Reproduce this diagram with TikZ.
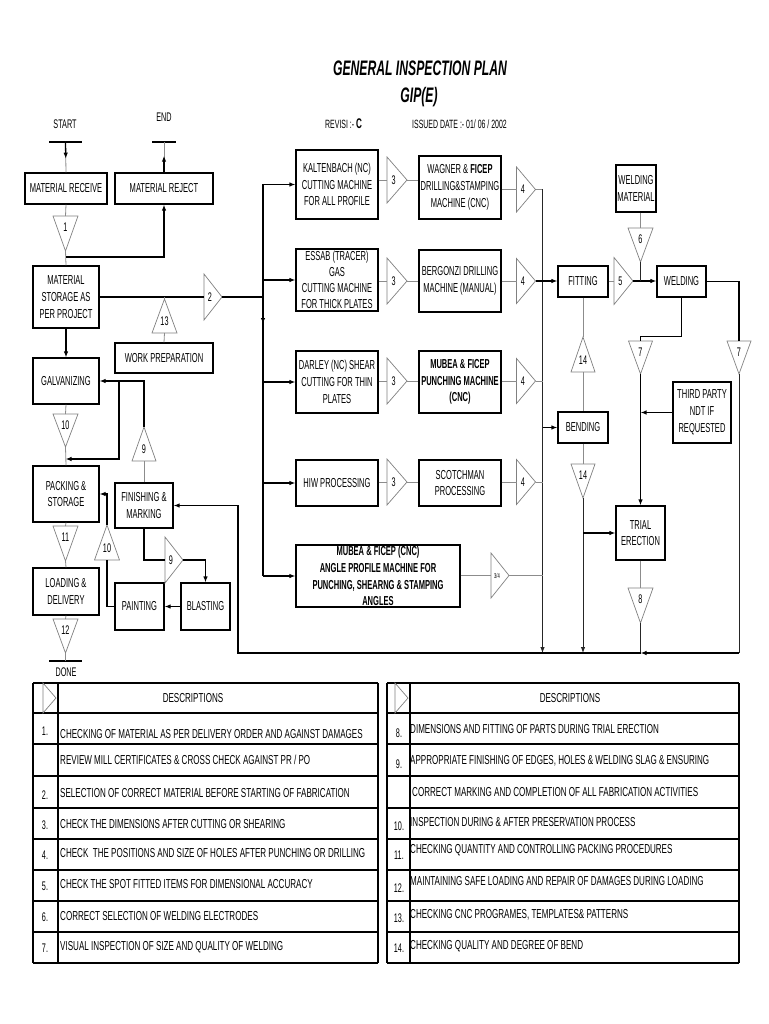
\documentclass[tikz,border=0pt]{standalone}
\usepackage{fontspec}
\setmainfont{Liberation Sans}[FakeStretch=0.58]
\newfontfamily\tabfont{Liberation Sans}[FakeStretch=0.62]
\usetikzlibrary{arrows.meta, calc, positioning}
\tikzset{>={Latex[length=6pt,width=4.5pt]}}
\colorlet{linkgray}{black!45}
\colorlet{trigray}{black!50}
\tikzstyle{box}=[draw, line width=1.2pt, inner sep=1pt, align=center, font=\fontsize{13}{16.8}\selectfont]
\tikzstyle{flow}=[line width=1.3pt]
\tikzstyle{bus}=[line width=0.9pt, black!85]
\tikzstyle{link}=[line width=0.8pt, linkgray]
\tikzstyle{tri}=[line width=0.7pt, trigray, fill=white]
\tikzstyle{trilabel}=[inner sep=0, font=\fontsize{12.5}{12.5}\selectfont]
\tikzstyle{lbl}=[inner sep=0, font=\fontsize{12.5}{14}\selectfont]
\tikzstyle{row}=[anchor=west, inner sep=0, font=\tabfont\fontsize{13}{14}\selectfont]
\tikzstyle{tabline}=[line width=1.1pt]

% inspection marker: name, rotation, x, y, half length, half width, number
\newcommand{\marker}[7]{%
  \begin{scope}[shift={(#3,#4)}, rotate=#2]
    \draw[tri] (-#5,-#6) -- (#5,0) -- (-#5,#6) -- cycle;
    \coordinate (#1-in) at (-#5,0);
    \coordinate (#1-out) at (#5,0);
    \node[trilabel] (#1) at (-#5/3,0) {#7};
  \end{scope}}

\begin{document}
\begin{tikzpicture}[x=1pt,y=-1pt]
\useasboundingbox (0,0) rectangle (768,1024);

% title
\node[inner sep=0, font=\fontsize{21}{24}\selectfont\bfseries\itshape] (title) at (420,68) {GENERAL INSPECTION PLAN};
\node[inner sep=0, font=\fontsize{21}{24}\selectfont\bfseries\itshape] (gip) at (419,97) {GIP(E)};
\node[lbl, anchor=west, font=\fontsize{12}{13}\selectfont] (rev) at (325,124) {REVISI :- {\fontsize{14}{14}\selectfont\bfseries C}};
\node[lbl, anchor=west, font=\fontsize{12}{13}\selectfont] (date) at (412,124) {ISSUED DATE :- 01/ 06 / 2002};

% left column
\node[lbl] (start) at (65,124) {START};
\node[lbl] (end) at (164,117) {END};
\node[lbl] (done) at (66,672) {DONE};
\node[box, minimum width=82, minimum height=31] (recv) at (66,188.5) {MATERIAL RECEIVE};
\node[box, minimum width=98, minimum height=31] (rej) at (164,188.5) {MATERIAL REJECT};
\node[box, minimum width=66, minimum height=62] (stor) at (66,297) {MATERIAL\\STORAGE AS\\PER PROJECT};
\node[box, minimum width=66, minimum height=46] (galv) at (66,381) {GALVANIZING};
\node[box, minimum width=66, minimum height=56] (pack) at (66,494) {PACKING \&\\STORAGE};
\node[box, minimum width=66, minimum height=47] (load) at (66,591.5) {LOADING \&\\DELIVERY};
\node[box, minimum width=98, minimum height=30] (prep) at (164,358) {WORK PREPARATION};
\node[box, minimum width=58, minimum height=45] (fin) at (144,505.5) {FINISHING \&\\MARKING};
\node[box, minimum width=49, minimum height=47] (paint) at (139.5,606.5) {PAINTING};
\node[box, minimum width=49, minimum height=47] (blast) at (205.5,606.5) {BLASTING};

% machines
\node[box, minimum width=82, minimum height=69] (kalt) at (337,184.5) {KALTENBACH (NC)\\CUTTING MACHINE\\FOR ALL PROFILE};
\node[box, minimum width=82, minimum height=63] (wag) at (460,187.5) {WAGNER \& \textbf{FICEP}\\DRILLING\&STAMPING\\MACHINE (CNC)};
\node[box, minimum width=82, minimum height=62, font=\fontsize{13}{16}\selectfont] (essab) at (337,280) {ESSAB (TRACER)\\GAS\\CUTTING MACHINE\\FOR THICK PLATES};
\node[box, minimum width=82, minimum height=62] (berg) at (460,281) {BERGONZI DRILLING\\MACHINE (MANUAL)};
\node[box, minimum width=82, minimum height=62] (darl) at (337,382) {DARLEY (NC) SHEAR\\CUTTING FOR THIN\\PLATES};
\node[box, minimum width=82, minimum height=62, font=\fontsize{13}{16.8}\selectfont\bfseries] (mub) at (460,382) {MUBEA \& FICEP\\PUNCHING MACHINE\\(CNC)};
\node[box, minimum width=82, minimum height=46] (hiw) at (337,483) {HIW PROCESSING};
\node[box, minimum width=82, minimum height=46] (scot) at (460,483) {SCOTCHMAN\\PROCESSING};
\node[box, minimum width=164, minimum height=62, font=\fontsize{13}{16.8}\selectfont\bfseries] (angl) at (378,576) {MUBEA \& FICEP (CNC)\\ANGLE PROFILE MACHINE FOR\\PUNCHING, SHEARNG \& STAMPING\\ANGLES};

% right part
\node[box, minimum width=50, minimum height=31] (fit) at (583,281.5) {FITTING};
\node[box, minimum width=49, minimum height=31] (weld) at (681.5,281.5) {WELDING};
\node[box, minimum width=40, minimum height=47] (wmat) at (636,188.5) {WELDING\\MATERIAL};
\node[box, minimum width=58, minimum height=61] (ndt) at (702,412.5) {THIRD PARTY\\NDT IF\\REQUESTED};
\node[box, minimum width=50, minimum height=31] (bend) at (583,427.5) {BENDING};
\node[box, minimum width=49, minimum height=54] (trial) at (640.5,533) {TRIAL\\ERECTION};

% inspection markers
\marker{t1}{-90}{65.5}{233.5}{17.5}{12.5}{1}
\marker{t10a}{-90}{65.5}{430.5}{16.5}{12.5}{10}
\marker{t11}{-90}{65.5}{543.5}{17.5}{12.5}{11}
\marker{t12}{-90}{65.5}{636}{17}{12.5}{12}
\marker{t13}{90}{164.5}{316}{17}{12.5}{13}
\marker{t9a}{90}{144}{444}{17}{12}{9}
\marker{t10b}{90}{107}{542.5}{17.5}{12.5}{10}
\marker{t9b}{0}{174}{560}{9}{23}{9}
\marker{t2}{0}{213}{297}{9}{23}{2}
\marker{t3a}{0}{397}{180}{10}{23}{3}
\marker{t4a}{0}{526}{189.5}{9.5}{22.5}{4}
\marker{t3b}{0}{397}{281}{10}{23}{3}
\marker{t4b}{0}{526}{281}{9.5}{22.5}{4}
\marker{t3c}{0}{397}{381}{10}{23}{3}
\marker{t4c}{0}{526}{381}{9.5}{22.5}{4}
\marker{t3d}{0}{397}{482}{10}{23}{3}
\marker{t4d}{0}{526}{482}{9.5}{22.5}{4}
\marker{t34}{0}{500}{575.5}{9}{22.5}{\fontsize{7}{7}\selectfont 3/4}
\marker{t5}{0}{623.5}{281}{9.5}{23.5}{5}
\marker{t6}{-90}{640.5}{245}{17}{12.5}{6}
\marker{t7a}{-90}{640.5}{357.5}{16.5}{12}{7}
\marker{t7b}{-90}{739}{357.5}{16.5}{12}{7}
\marker{t14a}{90}{583}{354.5}{17.5}{12}{14}
\marker{t14b}{-90}{583}{481}{17}{12}{14}
\marker{t8}{-90}{640.5}{605.5}{17.5}{12.5}{8}

% start, end and done bars
\coordinate (startbar) at (65.5,142);
\coordinate (endbar) at (164,142);
\coordinate (donebar) at (65.5,661);
\foreach \b/\w in {startbar/16.5pt, endbar/12pt, donebar/16.5pt}
  \draw[flow] ([xshift=-\w]\b) -- ([xshift=\w]\b);
\draw[link] (startbar) -- (recv.north);
\draw[flow,->] (startbar) -- ($(startbar)!0.55!(recv.north)$);
\draw[link] (rej.north) -- (endbar);
\draw[flow,->] (rej.north) -- ($(rej.north)!0.55!(endbar)$);

% receiving and storage
\draw[link] (recv.south) -- (t1-in);
\draw[link] (t1-out) -- (stor.north);
\coordinate (j1) at (65.5,257);
\draw[flow,->] (j1) -| (rej.south);
\draw[flow] (stor.east) -- (t2-in);
\draw[link] (prep.north) -- (t13-in);
\draw[link] (t13-out) -- (t13-out |- stor.east);

% feed bus to the machines
\coordinate (bus1) at (263,183);
\draw[flow] (t2-out) -- (t2-out -| bus1);
\draw[flow] (bus1 |- kalt.west) -- (bus1 |- angl.west);
\draw[flow,->] (t2-out -| bus1) -- ++(0,27);
\foreach \m in {kalt,essab,darl,hiw,angl}
  \draw[flow,->] (bus1 |- \m.west) -- (\m.west);
\foreach \a/\b/\c/\d in {kalt/t3a/wag/t4a, essab/t3b/berg/t4b, darl/t3c/mub/t4c, hiw/t3d/scot/t4d} {
  \draw[link] (\a.east |- \b-in) -- (\b-in);
  \draw[link] (\b-out) -- (\b-out -| \c.west);
  \draw[link] (\c.east |- \d-in) -- (\d-in);
}
\draw[link] (angl.east |- t34-in) -- (t34-in);

% collecting bus
\coordinate (bus2) at (542.5,189.5);
\coordinate (bottomR) at (739,653);
\coordinate (bottomL) at (238,653);
\draw[link] (t4a-out) -- (bus2);
\draw[bus,->] (bus2) -- (bus2 |- bottomR);
\draw[flow,->] (t4b-out) -- (t4b-out -| fit.west);
\draw[link] (t4c-out) -- (t4c-out -| bus2);
\draw[link] (t4d-out) -- (t4d-out -| bus2);
\draw[link] (t34-out) -- (t34-out -| bus2);
\draw[flow,->] (bus2 |- bend.west) -- (bend.west);

% fitting, welding, erection
\draw[link] (fit.east |- t5-in) -- (t5-in);
\draw[flow,->] (t5-out) -- (t5-out -| weld.west);
\draw[link] (wmat.south -| t6-in) -- (t6-in);
\draw[bus] (t6-out) -- (t6-out |- t5-out);
\draw[flow] (weld.east) -| (t7b-in);
\draw[flow] (weld.south) -- ++(0,39) -| (t7a-in);
\draw[flow,->] (t7a-out) -- (trial.north);
\draw[flow,->] (ndt.west) -- (ndt.west -| t7a-out);
\draw[link] (fit.south) -- (t14a-out);
\draw[link] (t14a-in) -- (bend.north);
\draw[link] (bend.south) -- (t14b-in);
\draw[bus,->] (t14b-out) -- (t14b-out |- bottomR);
\coordinate (j14) at (583,533);
\draw[flow,->] (j14) -- (trial.west);
\draw[link] (trial.south) -- (t8-in);
\draw[bus] (t8-out) -- (t8-out |- bottomR);
\draw[bus] (t7b-out) -- (bottomR);
\draw[flow,->] (bottomR) -- (bottomR -| t8-out);
\draw[flow,->] (bottomR -| t8-out) -- (bottomL) |- (fin.east);

% preservation and dispatch
\draw[flow,->] (stor.south) -- (galv.north);
\draw[link] (galv.south) -- (t10a-in);
\draw[link] (t10a-out) -- (pack.north);
\draw[link] (pack.south) -- (t11-in);
\draw[link] (t11-out) -- (load.north);
\draw[link] (load.south) -- (t12-in);
\draw[link] (t12-out) -- (donebar);
\draw[link] (fin.north) -- (t9a-in);
\draw[flow,->] (t9a-out) |- (galv.east);
\coordinate (j9) at (119,381);
\coordinate (j10) at (65.5,459);
\draw[flow,->] (j9) |- (j10);
\draw[flow] (fin.south) |- (t9b-in);
\draw[flow,->] (t9b-out) -| (blast.north);
\draw[flow,->] (blast.west) -- (paint.east);
\draw[flow] (paint.west) -| (t10b-in);
\draw[flow,->] (t10b-out) |- (pack.east);

% description tables
\foreach \y in {683,713,744,776,808,839,870,901,932,963} {
  \draw[tabline] (33,\y) -- (378,\y);
  \draw[tabline] (387,\y) -- (739,\y);
}
\foreach \x in {33,58,378,387,410,739}
  \draw[tabline] (\x,683) -- (\x,963);
\marker{th1}{0}{49.5}{698}{6.5}{15}{}
\marker{th2}{0}{401.5}{698}{6.5}{15}{}
\node[lbl, font=\tabfont\fontsize{13}{14}\selectfont] (hd1) at (193,698) {DESCRIPTIONS};
\node[lbl, font=\tabfont\fontsize{13}{14}\selectfont] (hd2) at (570,698) {DESCRIPTIONS};

\node[lbl] (n1) at (45,731) {1.};
\node[row] (d1) at (60,734) {CHECKING OF MATERIAL AS PER DELIVERY ORDER AND AGAINST DAMAGES};
\node[row] (d1b) at (60,760) {REVIEW MILL CERTIFICATES \& CROSS CHECK AGAINST PR / PO};
\node[lbl] (n2) at (45,795) {2.};
\node[row] (d2) at (60,793) {SELECTION OF CORRECT MATERIAL BEFORE STARTING OF FABRICATION};
\node[lbl] (n3) at (45,825) {3.};
\node[row] (d3) at (60,824) {CHECK THE DIMENSIONS AFTER CUTTING OR SHEARING};
\node[lbl] (n4) at (45,855) {4.};
\node[row] (d4) at (60,853) {CHECK\ \ THE POSITIONS AND SIZE OF HOLES AFTER PUNCHING OR DRILLING};
\node[lbl] (n5) at (45,886) {5.};
\node[row] (d5) at (60,884) {CHECK THE SPOT FITTED ITEMS FOR DIMENSIONAL ACCURACY};
\node[lbl] (n6) at (45,917) {6.};
\node[row] (d6) at (60,916) {CORRECT SELECTION OF WELDING ELECTRODES};
\node[lbl] (n7) at (45,948) {7.};
\node[row] (d7) at (60,947) {VISUAL INSPECTION OF SIZE AND QUALITY OF WELDING};

\node[lbl] (n8) at (399,733) {8.};
\node[row] (d8) at (410,729) {DIMENSIONS AND FITTING OF PARTS DURING TRIAL ERECTION};
\node[lbl] (n9) at (399,764) {9.};
\node[row] (d9) at (410,761) {APPROPRIATE FINISHING OF EDGES, HOLES \& WELDING SLAG \& ENSURING};
\node[row] (d9b) at (412,792) {CORRECT MARKING AND COMPLETION OF ALL FABRICATION ACTIVITIES};
\node[lbl] (n10) at (399,826) {10.};
\node[row] (d10) at (410,822) {INSPECTION DURING \& AFTER PRESERVATION PROCESS};
\node[lbl] (n11) at (399,855) {11.};
\node[row] (d11) at (410,850) {CHECKING QUANTITY AND CONTROLLING PACKING PROCEDURES};
\node[lbl] (n12) at (399,888) {12.};
\node[row] (d12) at (410,881) {MAINTAINING SAFE LOADING AND REPAIR OF DAMAGES DURING LOADING};
\node[lbl] (n13) at (399,918) {13.};
\node[row] (d13) at (410,915) {CHECKING CNC PROGRAMES, TEMPLATES\& PATTERNS};
\node[lbl] (n14) at (399,948) {14.};
\node[row] (d14) at (410,946) {CHECKING QUALITY AND DEGREE OF BEND};
\end{tikzpicture}
\end{document}
